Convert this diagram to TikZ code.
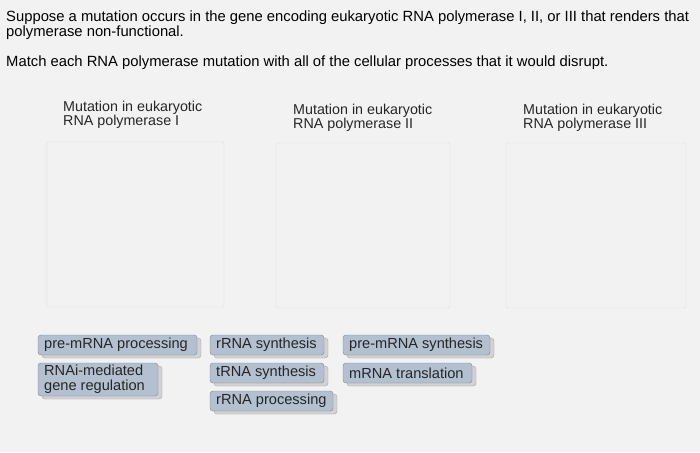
\documentclass[tikz,border=0pt]{standalone}
\usepackage{fontspec}
\setmainfont{Liberation Sans}
\definecolor{tilefill}{RGB}{178,192,208}
\definecolor{tiledraw}{RGB}{120,135,155}
\begin{document}
\begin{tikzpicture}[x=1pt,y=-1pt,
 tile/.style={draw=tiledraw,fill=tilefill,rounded corners=3pt,inner sep=0pt,font=\fontsize{14.6}{15}\selectfont,text=black!85,align=left},
 shadow/.style={draw=gray!70,fill=gray!35,rounded corners=3pt},
 slot/.style={draw=gray!25,rounded corners=2pt},
 hdr/.style={anchor=north west,align=left,font=\fontsize{14.3}{13}\selectfont,text=black!85,inner sep=0pt}]
\fill[gray!10] (0,0) rectangle (700,452);
\node[anchor=north west,inner sep=0pt,align=left,font=\fontsize{14.8}{15}\selectfont] (q) at (6,11) {Suppose a mutation occurs in the gene encoding eukaryotic RNA polymerase I, II, or III that renders that\\polymerase non-functional.};
\node[anchor=north west,inner sep=0pt,font=\fontsize{14.8}{15}\selectfont] (m) at (6,56) {Match each RNA polymerase mutation with all of the cellular processes that it would disrupt.};
\node[hdr] (h1) at (63,101) {Mutation in eukaryotic\\RNA polymerase I};
\node[hdr] (h2) at (293,104) {Mutation in eukaryotic\\RNA polymerase II};
\node[hdr] (h3) at (523,104) {Mutation in eukaryotic\\RNA polymerase III};
\draw[slot] (47,142) rectangle (224,307);
\draw[slot] (276,143) rectangle (450,308);
\draw[slot] (506,143) rectangle (686,308);
\foreach \a/\b/\c/\d/\t/\n in {
 38/335/197/355/{pre-mRNA processing}/t1,
 210/335/324/355/{rRNA synthesis}/t2,
 343/335/490/355/{pre-mRNA synthesis}/t3,
 38/363/158/396/{RNAi-mediated\\gene regulation}/t4,
 210/363/324/383/{tRNA synthesis}/t5,
 343/363/472/383/{mRNA translation}/t6,
 210/391/333/411/{rRNA processing}/t7}{
 \draw[shadow] (\a+4,\b+3) rectangle (\c+4,\d+3);
 \draw[tile] (\a,\b) rectangle (\c,\d);
 \node[tile,draw=none,fill=none,anchor=west] (\n) at (\a+6,{(\b+\d)/2}) {\t};
}
\end{tikzpicture}
\end{document}
